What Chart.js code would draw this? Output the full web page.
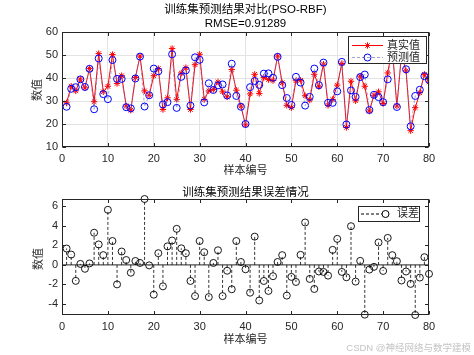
<!DOCTYPE html>
<html><head><meta charset="utf-8">
<script src="https://cdn.jsdelivr.net/npm/chart.js@4/dist/chart.umd.min.js"></script>
<style>
html,body{margin:0;padding:0;background:#fff;}
#wrap{position:relative;width:474px;height:355px;overflow:hidden;background:#fff;}
canvas{position:absolute;left:0;}
#c1{top:0;}
#c2{top:180px;}
#wm{position:absolute;right:3px;top:340px;font:9.5px "Liberation Sans","Noto Sans CJK SC",sans-serif;color:#c4c4c4;white-space:nowrap;}
</style>
</head><body>
<div id="wrap">
<canvas id="c1" width="474" height="180"></canvas>
<canvas id="c2" width="474" height="175"></canvas>
<div id="wm">CSDN @神经网络与数学建模</div>
</div>
<script>
// ---- data ----
const sampleIdx = [];
for (let i = 1; i <= 80; i++) sampleIdx.push(i);

const trueVals = [29.2,36.4,34.4,39.5,35.7,44.1,29.7,50.6,34.0,36.4,
                  50.2,37.6,41.0,27.8,26.0,40.2,49.5,34.4,32.5,41.0,
                  44.1,26.3,31.4,52.8,30.7,42.2,44.5,26.3,45.8,50.3,
                  30.7,34.4,35.0,38.3,34.0,31.8,43.7,34.7,27.8,19.6,
                  33.1,41.6,33.3,40.2,39.3,38.9,49.5,37.9,28.1,27.1,
                  38.8,39.0,32.3,30.4,41.6,36.2,46.0,28.1,30.7,36.9,
                  46.3,18.5,38.6,30.1,40.8,36.4,25.6,32.5,34.0,28.9,
                  42.2,53.0,27.8,50.0,43.1,17.1,27.1,33.6,41.6,38.3];

const predVals = [27.5,35.3,36.0,39.4,36.1,44.0,26.4,48.5,33.0,30.8,
                  47.8,39.6,39.6,27.3,26.8,39.8,49.3,27.6,32.5,44.1,
                  42.9,28.5,29.5,50.3,27.0,40.5,43.3,28.0,49.0,47.9,
                  29.4,37.7,34.8,36.8,37.2,32.4,46.2,32.2,27.5,20.0,
                  36.0,38.7,37.0,41.9,42.0,40.1,49.2,36.9,31.3,28.3,
                  40.5,38.0,28.0,31.8,44.1,36.9,46.7,29.2,29.2,34.2,
                  47.0,19.8,34.6,31.8,40.4,41.5,26.1,32.7,31.7,29.5,
                  39.4,52.0,27.4,51.6,43.8,19.0,32.2,34.9,40.8,39.2];

const errVals = [1.68,1.06,-1.64,0.10,-0.40,0.15,3.30,2.10,1.00,5.65,
                 2.45,-2.00,1.37,0.50,-0.80,0.40,0.20,6.76,-0.05,-3.05,
                 1.20,-2.20,1.90,2.50,3.70,1.70,1.20,-1.65,-3.20,2.45,
                 1.30,-3.30,0.20,1.50,-3.20,-0.60,-2.50,2.45,0.30,-0.45,
                 -2.85,2.90,-3.65,-1.65,-2.67,-1.16,0.30,1.00,-3.15,-1.23,
                 -1.75,1.03,4.35,-1.44,-2.47,-0.68,-0.72,-1.10,1.54,2.67,
                 -0.72,-1.27,3.97,-1.71,0.41,-5.10,-0.48,-0.20,2.30,-0.62,
                 2.77,1.00,0.38,-1.60,-0.68,-1.95,-5.14,-1.30,0.79,-0.92];

const xTicks = [0,10,20,30,40,50,60,70,80];
const yTicksTop = [10,20,30,40,50,60];
const yTicksBottom = [-4,-2,0,2,4,6];

const titleTop1 = '训练集预测结果对比(PSO-RBF)';
const titleTop2 = 'RMSE=0.91289';
const titleBottom = '训练集预测结果误差情况';
const xLabel = '样本编号';
const yLabel = '数值';
const legendTop = ['真实值', '预测值'];
const legendBottom = ['误差'];

// ---- styling ----
const FONT = '"Liberation Sans", Arial, "Noto Sans CJK SC", sans-serif';
const AX = '#262626';
Chart.defaults.font.family = FONT;
Chart.defaults.animation = false;

function fitY(s){ s.width = 40; }
function fitX(s){ s.height = 20; }
function setTicks(vals){ return function(s){ s.ticks = vals.map(v => ({value: v})); }; }

function boxAndTicks(chart, ctx) {
  const a = chart.chartArea;
  const xs = chart.scales.x, ys = chart.scales.y;
  ctx.save();
  ctx.strokeStyle = AX; ctx.lineWidth = 1;
  const L = Math.round(a.left) + 0.5, R = Math.round(a.right) - 0.5;
  const T = Math.round(a.top) + 0.5, B = Math.round(a.bottom) - 0.5;
  ctx.strokeRect(L, T, R - L, B - T);
  ctx.beginPath();
  xs.ticks.forEach(t => {
    const p = Math.round(xs.getPixelForValue(t.value)) + 0.5;
    ctx.moveTo(p, B); ctx.lineTo(p, B - 3.5);
    ctx.moveTo(p, T); ctx.lineTo(p, T + 3.5);
  });
  ys.ticks.forEach(t => {
    const p = Math.round(ys.getPixelForValue(t.value)) + 0.5;
    ctx.moveTo(L, p); ctx.lineTo(L + 3.5, p);
    ctx.moveTo(R, p); ctx.lineTo(R - 3.5, p);
  });
  ctx.stroke();
  ctx.restore();
}

function drawText(ctx, txt, x, y, size, color, rot) {
  ctx.save();
  ctx.font = size + 'px ' + FONT;
  ctx.fillStyle = color;
  ctx.textAlign = 'center';
  ctx.textBaseline = 'middle';
  ctx.translate(x, y);
  if (rot) ctx.rotate(rot);
  ctx.fillText(txt, 0, 0);
  ctx.restore();
}

// ---- top chart ----
const topDecor = {
  id: 'topDecor',
  afterDraw(chart) {
    const ctx = chart.ctx;
    boxAndTicks(chart, ctx);
    const a = chart.chartArea;
    const cx = (a.left + a.right) / 2;
    drawText(ctx, titleTop1, cx, 10, 11.5, '#000');
    drawText(ctx, titleTop2, cx, 24, 11.5, '#000');
    drawText(ctx, xLabel, cx, 171, 11, AX);
    drawText(ctx, yLabel, 38, 90, 11, AX, -Math.PI / 2);
    // legend
    const lx = 348, ly = 36, lw = 78, lh = 27;
    ctx.save();
    ctx.fillStyle = '#fff';
    ctx.fillRect(lx, ly, lw, lh);
    ctx.strokeStyle = AX; ctx.lineWidth = 1;
    ctx.strokeRect(lx + 0.5, ly + 0.5, lw, lh);
    // entry 1
    ctx.strokeStyle = '#ff0000';
    ctx.beginPath(); ctx.moveTo(352, 45.5); ctx.lineTo(383, 45.5); ctx.stroke();
    Chart.helpers.drawPoint(ctx, {pointStyle: 'star', radius: 3.2, borderWidth: 1}, 367.5, 45.5);
    // entry 2
    ctx.strokeStyle = '#8a8ab8'; ctx.lineWidth = 0.8;
    ctx.setLineDash([3, 2]);
    ctx.beginPath(); ctx.moveTo(352, 57.5); ctx.lineTo(383, 57.5); ctx.stroke();
    ctx.setLineDash([]);
    ctx.strokeStyle = '#0000ff'; ctx.lineWidth = 1;
    ctx.beginPath(); ctx.arc(367.5, 57.5, 3.5, 0, Math.PI * 2); ctx.stroke();
    ctx.restore();
    ctx.save();
    ctx.font = '11px ' + FONT; ctx.fillStyle = AX;
    ctx.textAlign = 'left'; ctx.textBaseline = 'middle';
    ctx.fillText(legendTop[0], 387, 45.5);
    ctx.fillText(legendTop[1], 387, 57.5);
    ctx.restore();
  }
};

new Chart(document.getElementById('c1'), {
  type: 'line',
  data: {
    datasets: [
      {
        label: legendTop[1],
        data: sampleIdx.map((x, i) => ({x: x, y: predVals[i]})),
        borderColor: 'rgba(110,110,190,0.75)',
        borderWidth: 0.8,
        borderDash: [3, 2],
        pointStyle: 'circle',
        pointRadius: 3.5,
        pointBorderColor: '#0000ff',
        pointBackgroundColor: 'rgba(0,0,0,0)',
        pointBorderWidth: 1,
        tension: 0
      },
      {
        label: legendTop[0],
        data: sampleIdx.map((x, i) => ({x: x, y: trueVals[i]})),
        borderColor: '#ff0000',
        borderWidth: 1,
        pointStyle: 'star',
        pointRadius: 3.2,
        pointBorderColor: '#ff0000',
        pointBorderWidth: 1,
        tension: 0
      }
    ]
  },
  options: {
    responsive: false,
    animation: false,
    layout: {padding: {left: 22, right: 45, top: 32, bottom: 13}},
    plugins: {legend: {display: false}, tooltip: {enabled: false}},
    scales: {
      x: {
        type: 'linear', min: 0, max: 80,
        afterFit: fitX, afterBuildTicks: setTicks(xTicks),
        grid: {color: '#e3e3e3', drawTicks: false},
        border: {display: false},
        ticks: {font: {size: 11}, color: AX, padding: 5, maxRotation: 0}
      },
      y: {
        min: 10, max: 60,
        afterFit: fitY, afterBuildTicks: setTicks(yTicksTop),
        grid: {color: '#e3e3e3', drawTicks: false},
        border: {display: false},
        ticks: {font: {size: 11}, color: AX, padding: 4}
      }
    }
  },
  plugins: [topDecor]
});

// ---- bottom chart ----
const stemData = [];
errVals.forEach((e, i) => {
  stemData.push({x: sampleIdx[i], y: 0});
  stemData.push({x: sampleIdx[i], y: e});
  stemData.push({x: sampleIdx[i], y: null});
});

const bottomDecor = {
  id: 'bottomDecor',
  afterDraw(chart) {
    const ctx = chart.ctx;
    boxAndTicks(chart, ctx);
    const a = chart.chartArea;
    const cx = (a.left + a.right) / 2;
    drawText(ctx, titleBottom, cx, 13, 11.5, '#000');
    drawText(ctx, xLabel, cx, 160, 11, AX);
    drawText(ctx, yLabel, 39, 79, 11, AX, -Math.PI / 2);
    const lx = 358, ly = 26, lw = 61, lh = 15;
    ctx.save();
    ctx.fillStyle = '#fff';
    ctx.fillRect(lx, ly, lw, lh);
    ctx.strokeStyle = AX; ctx.lineWidth = 1;
    ctx.strokeRect(lx + 0.5, ly + 0.5, lw, lh);
    ctx.strokeStyle = '#000';
    ctx.setLineDash([3, 2]);
    ctx.beginPath(); ctx.moveTo(361, 34); ctx.lineTo(382, 34); ctx.stroke();
    ctx.setLineDash([]);
    ctx.beginPath(); ctx.arc(385.5, 34, 3.5, 0, Math.PI * 2); ctx.stroke();
    ctx.font = '11px ' + FONT; ctx.fillStyle = AX;
    ctx.textAlign = 'left'; ctx.textBaseline = 'middle';
    ctx.fillText(legendBottom[0], 397, 34);
    ctx.restore();
  }
};

new Chart(document.getElementById('c2'), {
  type: 'line',
  data: {
    datasets: [
      {
        label: 'points',
        data: sampleIdx.map((x, i) => ({x: x, y: errVals[i]})),
        showLine: false,
        clip: false,
        pointStyle: 'circle',
        pointRadius: 3.5,
        pointBorderColor: '#000',
        pointBackgroundColor: 'rgba(0,0,0,0)',
        pointBorderWidth: 0.9
      },
      {
        label: 'stems',
        data: stemData,
        borderColor: '#000',
        borderWidth: 0.8,
        borderDash: [3, 2],
        pointRadius: 0,
        spanGaps: false,
        tension: 0
      },
      {
        label: 'baseline',
        data: [{x: xTicks[0], y: 0}, {x: xTicks[xTicks.length - 1], y: 0}],
        borderColor: AX,
        borderWidth: 1,
        pointRadius: 0
      }
    ]
  },
  options: {
    responsive: false,
    animation: false,
    layout: {padding: {left: 22, right: 45, top: 19, bottom: 20}},
    plugins: {legend: {display: false}, tooltip: {enabled: false}},
    scales: {
      x: {
        type: 'linear', min: 0, max: 80,
        afterFit: fitX, afterBuildTicks: setTicks(xTicks),
        grid: {display: false, drawTicks: false},
        border: {display: false},
        ticks: {font: {size: 11}, color: AX, padding: 5, maxRotation: 0}
      },
      y: {
        min: -5.14, max: 6.76,
        afterFit: fitY, afterBuildTicks: setTicks(yTicksBottom),
        grid: {display: false, drawTicks: false},
        border: {display: false},
        ticks: {font: {size: 11}, color: AX, padding: 4}
      }
    }
  },
  plugins: [bottomDecor]
});
</script>
</body></html>
